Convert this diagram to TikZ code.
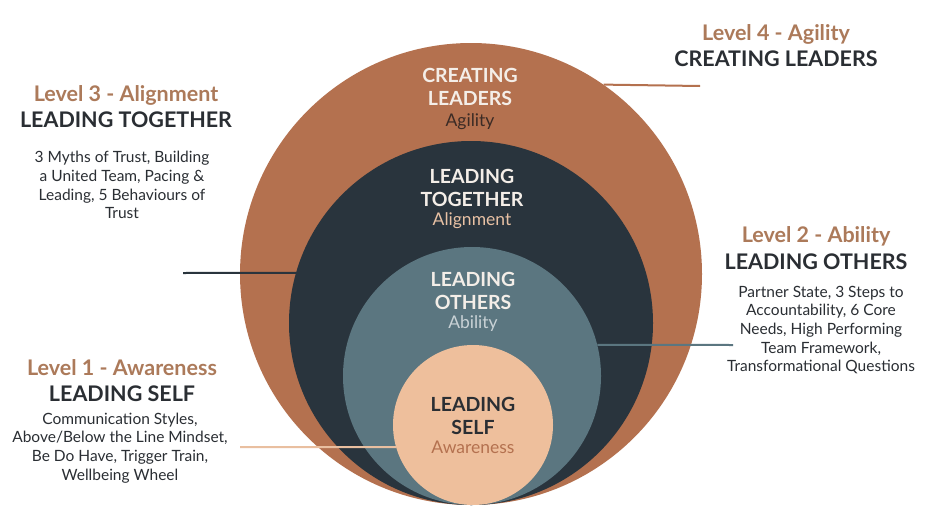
\documentclass[tikz,border=0pt]{standalone}
\usepackage{fontspec}
\setmainfont{Lato}
\definecolor{cbrown}{HTML}{B4714F}
\definecolor{cdark}{HTML}{29343D}
\definecolor{cslate}{HTML}{5B7680}
\definecolor{cpeach}{HTML}{EEBF9C}
\definecolor{chead}{HTML}{AC7A5A}
\definecolor{ctext}{HTML}{2A2E33}
\definecolor{ccream}{HTML}{F4EEE8}
\definecolor{cagil}{HTML}{3B2B25}
\definecolor{calign}{HTML}{E8C1A4}
\definecolor{cabil}{HTML}{C9D2D6}
\definecolor{cpline}{HTML}{E9BFA0}
\tikzset{
  ring/.style={circle, inner sep=0pt, draw=none},
  lvl/.style={font=\fontsize{21.5}{23}\selectfont\bfseries, text=chead, inner sep=0pt},
  ttl/.style={font=\fontsize{21.5}{23}\selectfont\bfseries, text=ctext, inner sep=0pt},
  body/.style={font=\fontsize{15.5}{18.7}\selectfont, text=ctext, align=center, inner sep=0pt},
  big/.style={font=\fontsize{19.5}{23.5}\selectfont\bfseries, align=center, inner sep=0pt},
  sub/.style={font=\fontsize{17.5}{19}\selectfont, inner sep=0pt},
  conn/.style={line width=2pt}
}
\begin{document}
\begin{tikzpicture}[x=1pt,y=-1pt]
\fill[white] (0,0) rectangle (933,525);
\useasboundingbox (0,0) rectangle (933,525);
% circles
\node[ring, fill=cbrown, minimum size=462pt] (outer) at (471,274) {};
\node[ring, fill=cdark, minimum size=364pt] (dark) at (471,323) {};
\coordinate (l3end) at (183,273);
\draw[conn, color=cdark] (l3end) -- (dark.164);
\node[ring, fill=cslate, minimum size=258pt] (slate) at (472,376) {};
\node[ring, fill=cpeach, minimum size=160pt] (peach) at (473,425) {};
% connectors
\coordinate (l4end) at (700,86);
\draw[conn, color=cbrown] (outer.55) -- (l4end);
\coordinate (l2end) at (733,345);
\draw[conn, color=cslate] (slate.14) -- (l2end);
\coordinate (l1end) at (240,447);
\draw[conn, color=cpline] (l1end) -- (peach.196);
% circle texts
\node[big, text=ccream] (t4) at (470,87) {CREATING\\LEADERS};
\node[sub, text=cagil] (s4) at (470,122) {Agility};
\node[big, text=ccream] (t3) at (472,188) {LEADING\\TOGETHER};
\node[sub, text=calign] (s3) at (472,221) {Alignment};
\node[big, text=ccream] (t2) at (473,291) {LEADING\\OTHERS};
\node[sub, text=cabil] (s2) at (473,324) {Ability};
\node[big, text=ctext] (t1) at (473,416) {LEADING\\SELF};
\node[sub, text=cbrown] (s1) at (473,447) {Awareness};
% level 4
\node[lvl] (h4) at (776,34) {Level 4 - Agility};
\node[ttl] (n4) at (776,59) {CREATING LEADERS};
% level 3
\node[lvl] (h3) at (126,95) {Level 3 - Alignment};
\node[ttl] (n3) at (126,120) {LEADING TOGETHER};
\node[body] (b3) at (122,185) {3 Myths of Trust, Building\\a United Team, Pacing \&\\Leading, 5 Behaviours of\\Trust};
% level 2
\node[lvl] (h2) at (816,236) {Level 2 - Ability};
\node[ttl] (n2) at (816,262) {LEADING OTHERS};
\node[body] (b2) at (821,330) {Partner State, 3 Steps to\\Accountability, 6 Core\\Needs, High Performing\\Team Framework,\\Transformational Questions};
% level 1
\node[lvl] (h1) at (122,368) {Level 1 - Awareness};
\node[ttl] (n1) at (122,394) {LEADING SELF};
\node[body] (b1) at (120,448) {Communication Styles,\\Above/Below the Line Mindset,\\Be Do Have, Trigger Train,\\Wellbeing Wheel};
\end{tikzpicture}
\end{document}
